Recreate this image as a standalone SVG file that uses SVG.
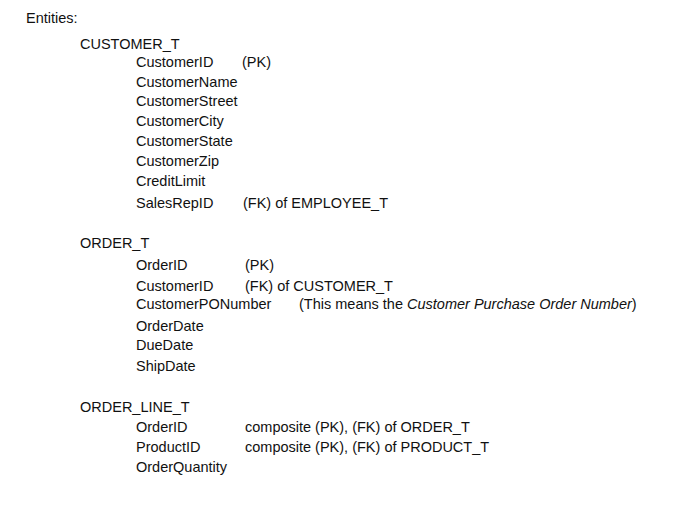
<svg xmlns="http://www.w3.org/2000/svg" width="700" height="512" viewBox="0 0 700 512">
<style>text{font-family:"Liberation Sans",Arial,sans-serif;font-size:14.5px;fill:#111}</style>
<rect width="700" height="512" fill="#fff"/>
<text x="26" y="23">Entities:</text>
<g id="customer">
<text x="80" y="49">CUSTOMER_T</text>
<text x="136" y="67">CustomerID</text><text x="242" y="67">(PK)</text>
<text x="136" y="87">CustomerName</text>
<text x="136" y="106">CustomerStreet</text>
<text x="136" y="126">CustomerCity</text>
<text x="136" y="146">CustomerState</text>
<text x="136" y="166">CustomerZip</text>
<text x="136" y="186">CreditLimit</text>
<text x="136" y="208">SalesRepID</text><text x="243" y="208">(FK) of EMPLOYEE_T</text>
</g>
<g id="order">
<text x="80" y="248">ORDER_T</text>
<text x="136" y="270">OrderID</text><text x="245" y="270">(PK)</text>
<text x="136" y="291">CustomerID</text><text x="245" y="291">(FK) of CUSTOMER_T</text>
<text x="136" y="309">CustomerPONumber</text><text x="299" y="309">(This means the <tspan font-style="italic">Customer Purchase Order Number</tspan>)</text>
<text x="136" y="331">OrderDate</text>
<text x="136" y="350">DueDate</text>
<text x="136" y="371">ShipDate</text>
</g>
<g id="orderline">
<text x="80" y="412">ORDER_LINE_T</text>
<text x="136" y="432">OrderID</text><text x="245" y="432">composite (PK), (FK) of ORDER_T</text>
<text x="136" y="452">ProductID</text><text x="245" y="452">composite (PK), (FK) of PRODUCT_T</text>
<text x="136" y="472">OrderQuantity</text>
</g>
<g id="connectors"/>
</svg>
